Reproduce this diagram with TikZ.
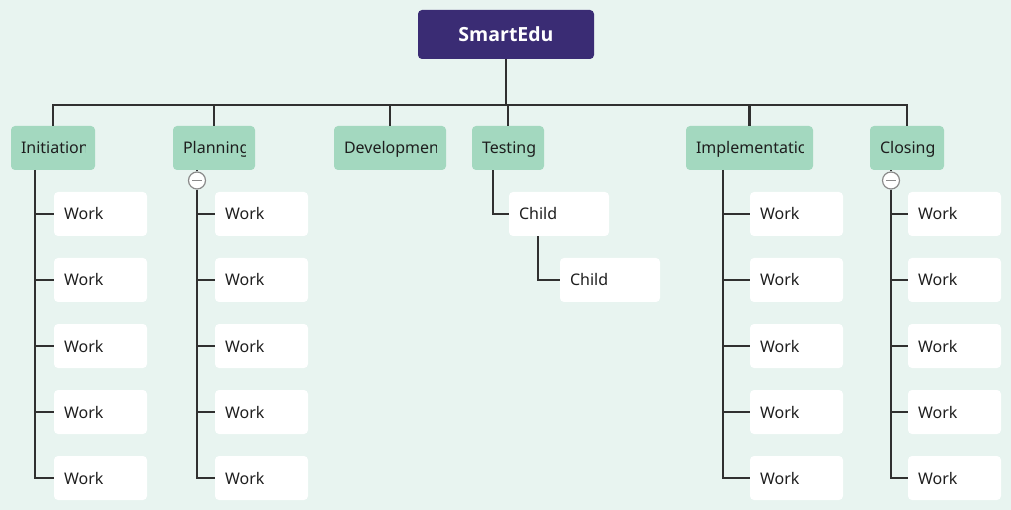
\documentclass[tikz,border=0pt]{standalone}
\usepackage{fontspec}
\setmainfont{Noto Sans}
\newfontfamily\rootfont{Open Sans}
\definecolor{bg}{HTML}{E8F4F0}
\definecolor{rootc}{HTML}{3A2C74}
\definecolor{lvl}{HTML}{A3D8BF}
\definecolor{ln}{HTML}{303030}
\definecolor{txt}{HTML}{1E1E1E}
\definecolor{cgray}{HTML}{8A8A8A}
\begin{document}
\begin{tikzpicture}[x=1pt,y=-1pt,
  rootbox/.style={fill=rootc, rounded corners=4pt, inner sep=0pt, text=white,
    text height=17pt, text depth=3pt,
    font=\rootfont\bfseries\fontsize{19.5}{22}\selectfont},
  lvlbox/.style={fill=lvl, rounded corners=4pt, inner sep=0pt, minimum height=44pt},
  lvltext/.style={inner sep=0pt, anchor=west, text=txt, text height=15pt, text depth=3pt,
    font=\fontsize{16}{19}\selectfont},
  workbox/.style={fill=white, rounded corners=4pt, minimum width=93pt, minimum height=44pt,
    inner xsep=10pt, inner ysep=0pt, text width=73pt, align=left, text=txt,
    text height=15pt, text depth=3pt,
    font=\fontsize{16}{19}\selectfont},
  childbox/.style={workbox, minimum width=100pt, text width=80pt},
  conn/.style={draw=ln, line width=2.1pt},
  collapse/.style={circle, draw=cgray, fill=white, line width=1.2pt, minimum size=17pt, inner sep=0pt,
    path picture={\draw[cgray, line width=1.6pt] ([xshift=-5pt]path picture bounding box.center) -- ([xshift=5pt]path picture bounding box.center);}}
]
\fill[bg] (0,0) rectangle (1011,510);
\useasboundingbox (0,0) rectangle (1011,510);

% root
\node[rootbox, minimum width=176pt, minimum height=49pt] (root) at (506,34.5) {SmartEdu};

% level 1 boxes
\node[lvlbox, minimum width=84pt] (init) at (53,148) {};
\node[lvlbox, minimum width=82pt] (plan) at (214,148) {};
\node[lvlbox, minimum width=112pt] (dev) at (390,148) {};
\node[lvlbox, minimum width=72pt] (test) at (508,148) {};
\node[lvlbox, minimum width=127pt] (impl) at (749.5,148) {};
\node[lvlbox, minimum width=74pt] (close) at (907,148) {};

\foreach \n/\t in {init/Initiation, plan/Planning, dev/Development, test/Testing, impl/Implementation, close/Closing}{
  \begin{scope}
    \clip ([xshift=10pt]\n.south west) rectangle ([xshift=-10pt]\n.north east);
    \node[lvltext] (\n T) at ([xshift=10pt]\n.west) {\t};
  \end{scope}
}

% bus
\coordinate (bus) at (506,105);
\draw[conn] (root.south) -- (bus);
\draw[conn] (init.north) |- (bus) -| (close.north);
\foreach \n in {plan, dev, test, impl}{
  \draw[conn] (\n.north) -- (\n.north |- bus);
}

% work boxes
\foreach \c/\x in {1/100.5, 2/261.5, 5/796.5, 6/954.5}{
  \foreach \k/\y in {1/214, 2/280, 3/346, 4/412, 5/478}{
    \node[workbox] (w\c\k) at (\x,\y) {Work};
  }
}

% Initiation spine
\coordinate (s1) at (35,170);
\draw[conn] (s1) |- (w15.west);
\foreach \k in {1,2,3,4}{ \draw[conn] (s1 |- w1\k.west) -- (w1\k.west); }

% Planning spine with collapse
\node[collapse] (c2) at (197,180.5) {};
\draw[conn] (c2 |- plan.south) -- (c2.north);
\draw[conn] (c2.south) |- (w25.west);
\foreach \k in {1,2,3,4}{ \draw[conn] (c2 |- w2\k.west) -- (w2\k.west); }

% Implementation spine
\coordinate (s5) at (723,170);
\draw[conn] (s5) |- (w55.west);
\foreach \k in {1,2,3,4}{ \draw[conn] (s5 |- w5\k.west) -- (w5\k.west); }

% Closing spine with collapse
\node[collapse] (c6) at (891,180.5) {};
\draw[conn] (c6 |- close.south) -- (c6.north);
\draw[conn] (c6.south) |- (w65.west);
\foreach \k in {1,2,3,4}{ \draw[conn] (c6 |- w6\k.west) -- (w6\k.west); }

% Testing children
\node[childbox] (t1) at (559,214) {Child};
\node[childbox] (t2) at (610,280) {Child};
\draw[conn] ([xshift=21pt]test.south west) |- (t1.west);
\draw[conn] ([xshift=29pt]t1.south west) |- (t2.west);
\end{tikzpicture}
\end{document}
